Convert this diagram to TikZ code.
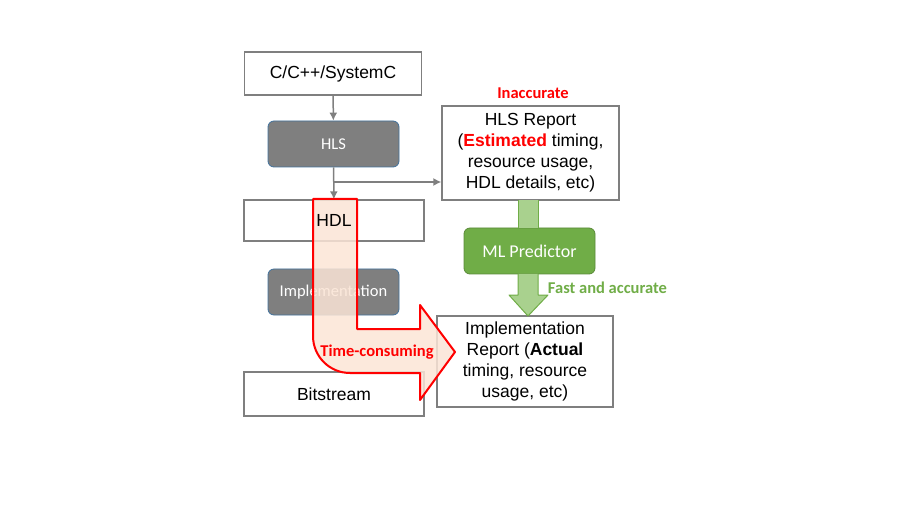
\documentclass[tikz,border=0pt]{standalone}
\usepackage{fontspec}
\usetikzlibrary{arrows.meta}
\setmainfont{Liberation Sans}
\newfontfamily\calibri{Carlito}
\definecolor{boxgray}{HTML}{7F7F7F}
\definecolor{boxedge}{HTML}{41719C}
\definecolor{mlgreen}{HTML}{70AD47}
\definecolor{mllight}{HTML}{A9D18E}
\definecolor{slowred}{HTML}{FF0000}
\definecolor{slowfill}{HTML}{FBE5D6}
\newcommand\bigtext{\fontsize{17.5}{21}\selectfont}
\newcommand\smalltext{\calibri\fontsize{16.5}{18}\selectfont}

\begin{document}
\begin{tikzpicture}[x = 1pt, y = -1pt, line width = 1.3pt,
	plainbox/.style = {draw = boxgray, fill = white, minimum height = 43pt, font = \bigtext},
	stepbox/.style = {draw = boxedge, fill = boxgray, rounded corners = 6pt, line width = 0.8pt,
		text = white, minimum width = 131pt, minimum height = 46pt, font = \smalltext},
	flow/.style = {draw = boxgray, line width = 1.5pt, -{Latex[length = 8pt, width = 8pt]}}
]
	\useasboundingbox (0, 0) rectangle (916, 505);

	% Ablauf links
	\node [plainbox, minimum width = 177pt] (src) at (333, 73.5) {C/C++/SystemC};
	\node [stepbox] (hls) at (333.5, 144) {HLS};
	\node [plainbox, minimum width = 180pt, minimum height = 41pt] (hdl) at (334, 220.5) {};
	\node [stepbox] (impl) at (333.5, 292) {Implementation};
	\node [plainbox, minimum width = 180pt, minimum height = 44pt] (bit) at (334, 394) {Bitstream};

	% Berichte rechts
	\node [plainbox, minimum width = 177pt, minimum height = 94pt, align = center] (hlsrep) at (530.5, 153)
		{HLS Report\\(\textbf{\color{slowred}Estimated} timing,\\resource usage,\\HDL details, etc)};
	\node [font = \calibri\bfseries\fontsize{16.5}{18}\selectfont, text = slowred, anchor = south] (inacc) at (533, 103) {Inaccurate};
	\node [plainbox, minimum width = 176pt, minimum height = 91pt, align = center] (implrep) at (525, 361.5)
		{Implementation\\Report (\textbf{Actual}\\timing, resource\\usage, etc)};
	\node [draw = mlgreen!80!black, fill = mlgreen, rounded corners = 6pt, line width = 0.8pt, text = white,
		minimum width = 131pt, minimum height = 46pt, font = \calibri\fontsize{18}{20}\selectfont] (ml) at (529.5, 251) {ML Predictor};

	% Pfeile
	\draw [flow] (src) -- (hls);
	\draw [flow] (hls) -- (hdl);
	\coordinate (split) at (333, 182);
	\draw [flow] (split) -- (hlsrep.west |- split);

	% gruene Pfeile
	\fill [mllight] (518, 200) rectangle (538, 228);
	\draw [mlgreen, line width = 1pt] (518, 200) -- (518, 228) (538, 200) -- (538, 228);
	\draw [mlgreen, fill = mllight, line width = 1pt, line join = round]
		(518, 274) -- (518, 295) -- (509, 295) -- (528, 316) -- (548, 295) -- (538, 295) -- (538, 274);
	\node [font = \calibri\bfseries\fontsize{16.5}{18}\selectfont, text = mlgreen, anchor = west] (fast) at (544, 288) {Fast and accurate};

	% roter Pfeil
	\draw [slowred, fill = slowfill, fill opacity = 0.85, line width = 2pt, line join = round]
		(313, 199) -- (357, 199) -- (357, 329) -- (420, 329) -- (420, 305) -- (455, 352)
		-- (420, 400) -- (420, 373) -- (350, 373) arc (90:180:37) -- cycle;
	\node [font = \bigtext] (hdltext) at (334, 220.5) {HDL};
	\node [font = \calibri\bfseries\fontsize{16.5}{18}\selectfont, text = slowred] (slow) at (377, 352) {Time-consuming};
\end{tikzpicture}
\end{document}
